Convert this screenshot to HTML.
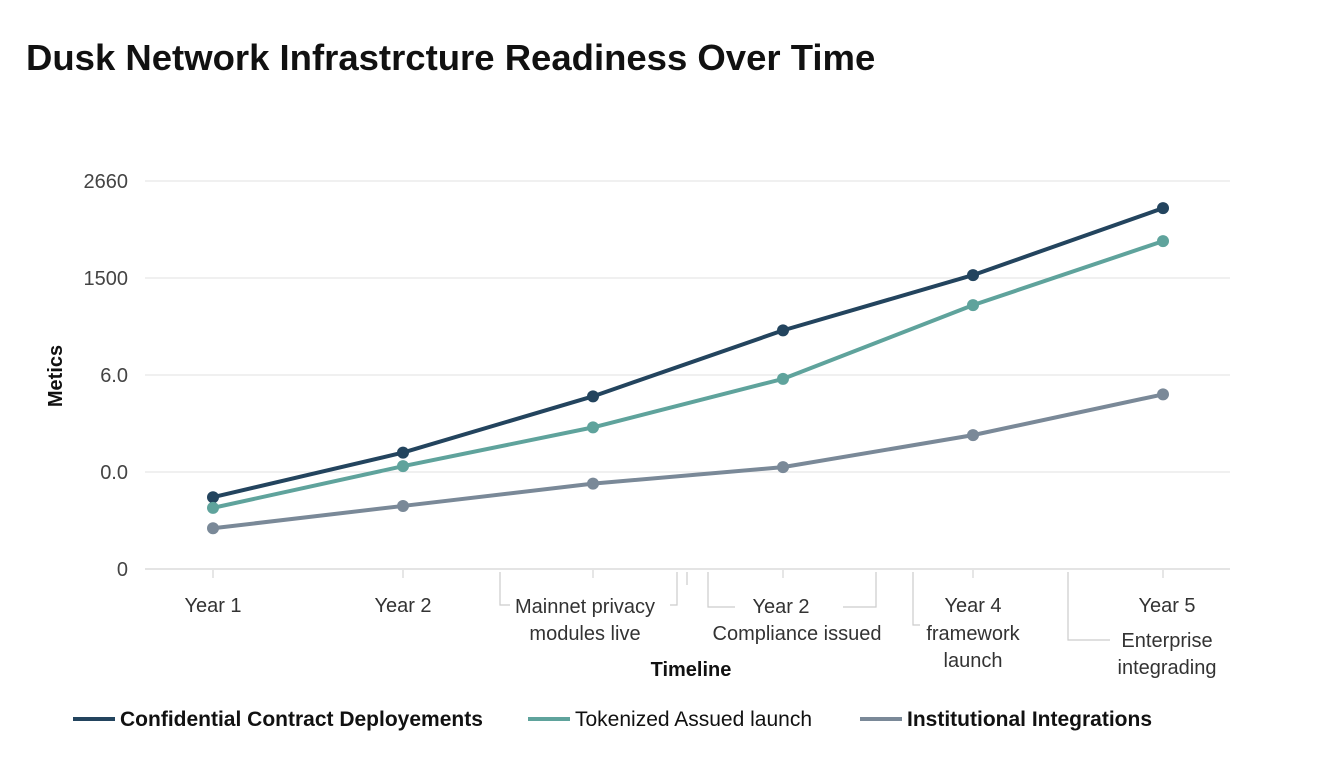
<!DOCTYPE html>
<html><head><meta charset="utf-8"><style>
body{margin:0;background:#fff;width:1344px;height:768px;overflow:hidden;font-family:"Liberation Sans",sans-serif}
svg text{font-family:"Liberation Sans",sans-serif}
</style></head><body>
<svg id="chart" width="1344" height="768">
<text x="26" y="70" font-size="36.5" font-weight="bold" fill="#111">Dusk Network Infrastrcture Readiness Over Time</text>
<g id="grid"></g><g id="yticks"></g><g id="xlab"></g>
<g stroke="#ccc" stroke-width="1.2" fill="none">
<polyline points="500,572 500,605 510,605"/><polyline points="677,572 677,605 670,605"/><line x1="687" y1="572" x2="687" y2="585"/>
<polyline points="708,572 708,607 735,607"/><polyline points="876,572 876,607 843,607"/>
<polyline points="913,572 913,625 920,625"/><polyline points="1068,572 1068,640 1110,640"/>
</g>
<text x="62" y="376" font-size="20" font-weight="bold" fill="#111" transform="rotate(-90 62 376)" text-anchor="middle">Metics</text>
<text x="691" y="676" font-size="20" font-weight="bold" fill="#111" text-anchor="middle">Timeline</text>
<g id="series"></g>
<g id="legend"></g>
</svg>
<script>
const categories=["Year 1","Year 2","Mainnet privacy|modules live","Year 2|Compliance issued","Year 4|framework|launch","Year 5|Enterprise|integrading"];
const yTickLabels=["0","0.0","6.0","1500","2660"];
const seriesNames=["Confidential Contract Deployements","Tokenized Assued launch","Institutional Integrations"];
const deployments=[0.74,1.20,1.78,2.46,3.03,3.72];
const tokenized=[0.63,1.06,1.46,1.96,2.72,3.38];
const institutional=[0.42,0.65,0.88,1.05,1.38,1.80];
const colors=["#23445e","#5fa39c","#7a8998"];
const NS="http://www.w3.org/2000/svg";
function mk(t,a,p){const e=document.createElementNS(NS,t);for(const k in a)e.setAttribute(k,a[k]);p.appendChild(e);return e;}
const x=i=>213+i*190;
const y=v=>569-v*97;
const grid=document.getElementById('grid'),yt=document.getElementById('yticks'),xl=document.getElementById('xlab');
yTickLabels.forEach((l,i)=>{
 const g=mk('line',{x1:145,x2:1230,y1:y(i),y2:y(i),stroke:i==0?'#d4d4d4':'#e6e6e6','stroke-width':1.2},grid);
 
 
 const t=mk('text',{x:128,y:y(i)+7,'font-size':20,fill:'#444','text-anchor':'end'},yt);t.textContent=l;
 
 
});
const labY=[[612],[612],[613,640],[613,640],[612,640,667],[612,647,674]];
categories.forEach((c,i)=>{
 const tk=mk('line',{x1:x(i),x2:x(i),y1:570,y2:578,stroke:'#ccc'},grid);
 
 
 const t=mk('text',{x:x(i)+(i==2?-8:i==3?14:i==5?4:0),'font-size':20,fill:'#333','text-anchor':'middle'},xl);
 
 
 c.split('|').forEach((s,j)=>{const ts=mk('tspan',{x:(i==3&&j==0)?x(i)-2:t.getAttribute('x'),y:labY[i][j]},t);ts.textContent=s;});
});
const S=document.getElementById('series');
[deployments,tokenized,institutional].forEach((d,k)=>{
 const p=mk('polyline',{points:d.map((v,i)=>x(i)+','+y(v)).join(' '),fill:'none',stroke:colors[k],'stroke-width':4,'stroke-linejoin':'round'},S);
 
 
 d.forEach((v,i)=>{const c=mk('circle',{cx:x(i),cy:y(v),r:6,fill:colors[k]},S);
  
  });
});
const L=document.getElementById('legend');
const lx=[73,528,860],bold=[true,false,true];
seriesNames.forEach((n,k)=>{
 const g=mk('g',{},L);
 
 
 mk('line',{x1:lx[k],x2:lx[k]+42,y1:719,y2:719,stroke:colors[k],'stroke-width':4},g);
 const t=mk('text',{x:lx[k]+47,y:726,'font-size':21,fill:'#111','font-weight':bold[k]?'bold':'normal'},g);t.textContent=n;
});
</script>
</body></html>
